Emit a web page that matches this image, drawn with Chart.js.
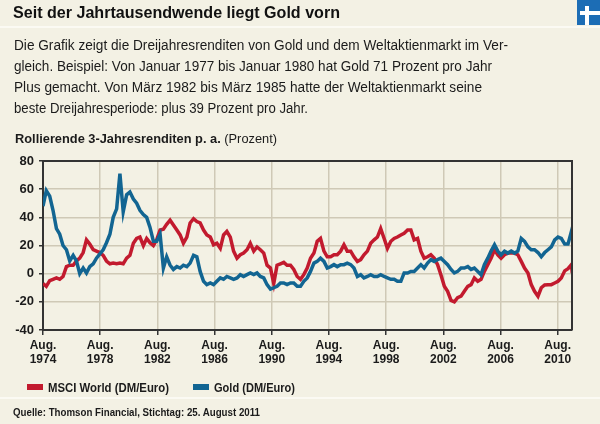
<!DOCTYPE html>
<html>
<head>
<meta charset="utf-8">
<script src="https://cdn.jsdelivr.net/npm/chart.js@4.4.1/dist/chart.umd.min.js"></script>
<style>
  body { margin: 0; width: 600px; height: 424px; background: #f3f1e4; position: relative; overflow: hidden; font-family: "Liberation Sans", Arial, sans-serif; color: #1b1b1b; }
  canvas { position: absolute; left: 0; top: 0; }
  .t { position: absolute; white-space: nowrap; line-height: 1; transform-origin: 0 0; }
  .b { font-weight: bold; }
  .sep { position: absolute; left: 0; width: 600px; height: 2px; background: #fbfaf3; }
  .key { position: absolute; width: 16px; height: 6px; }
</style>
</head>
<body>
<canvas id="myChart" width="600" height="424"></canvas>

<div class="sep" style="top:26px"></div>
<div class="sep" style="top:397px"></div>

<div id="logo" style="position:absolute;left:577px;top:0;width:23px;height:25px;background:#1c6db5">
  <div style="position:absolute;left:3px;top:11px;width:20px;height:4px;background:#fff"></div>
  <div style="position:absolute;left:8px;top:6px;width:4px;height:19px;background:#fff"></div>
</div>

<div class="t b" data-fit="327" style="left:13px;top:4.8px;font-size:16px;color:#111">Seit der Jahrtausendwende liegt Gold vorn</div>

<div class="t" data-fit="494" style="left:14px;top:38px;font-size:14px">Die Grafik zeigt die Dreijahresrenditen von Gold und dem Weltaktienmarkt im Ver-</div>
<div class="t" data-fit="478" style="left:14px;top:59px;font-size:14px">gleich. Beispiel: Von Januar 1977 bis Januar 1980 hat Gold 71 Prozent pro Jahr</div>
<div class="t" data-fit="468" style="left:14px;top:80px;font-size:14px">Plus gemacht. Von März 1982 bis März 1985 hatte der Weltaktienmarkt seine</div>
<div class="t" data-fit="294" style="left:14px;top:101px;font-size:14px">beste Dreijahresperiode: plus 39 Prozent pro Jahr.</div>

<div class="t" data-fit="262" style="left:15px;top:133px;font-size:12px"><span class="b">Rollierende 3-Jahresrenditen p. a.</span> (Prozent)</div>

<div class="key" style="left:27px;top:384px;background:#c21a2e"></div>
<div class="t b" data-fit="121" style="left:48px;top:380.7px;font-size:13px">MSCI World (DM/Euro)</div>
<div class="key" style="left:193px;top:384px;background:#126592"></div>
<div class="t b" data-fit="81" style="left:214px;top:380.7px;font-size:13px">Gold (DM/Euro)</div>

<div class="t b" data-fit="247" style="left:13px;top:407.5px;font-size:10px">Quelle: Thomson Financial, Stichtag: 25. August 2011</div>

<script>
// sample dates (decimal years)
const dates = [
	1974.60, 1974.83, 1975.07, 1975.30, 1975.54, 1975.77, 1976.00, 1976.24, 1976.47, 1976.71,
	1976.94, 1977.17, 1977.41, 1977.64, 1977.87, 1978.11, 1978.34, 1978.58, 1978.81, 1979.04,
	1979.28, 1979.51, 1979.75, 1979.98, 1980.21, 1980.45, 1980.68, 1980.92, 1981.15, 1981.38,
	1981.62, 1981.85, 1982.08, 1982.32, 1982.55, 1982.79, 1983.02, 1983.25, 1983.49, 1983.72,
	1983.96, 1984.19, 1984.42, 1984.66, 1984.89, 1985.13, 1985.36, 1985.59, 1985.83, 1986.06,
	1986.30, 1986.53, 1986.76, 1987.00, 1987.23, 1987.46, 1987.70, 1987.93, 1988.17, 1988.40,
	1988.63, 1988.87, 1989.10, 1989.34, 1989.57, 1989.80, 1990.04, 1990.27, 1990.51, 1990.74,
	1990.97, 1991.21, 1991.44, 1991.67, 1991.91, 1992.14, 1992.38, 1992.61, 1992.84, 1993.08,
	1993.31, 1993.55, 1993.78, 1994.01, 1994.25, 1994.48, 1994.72, 1994.95, 1995.18, 1995.42,
	1995.65, 1995.88, 1996.12, 1996.35, 1996.59, 1996.82, 1997.05, 1997.29, 1997.52, 1997.76,
	1997.99, 1998.22, 1998.46, 1998.69, 1998.93, 1999.16, 1999.39, 1999.63, 1999.86, 2000.10,
	2000.33, 2000.56, 2000.80, 2001.03, 2001.26, 2001.50, 2001.73, 2001.97, 2002.20, 2002.43,
	2002.67, 2002.90, 2003.14, 2003.37, 2003.60, 2003.84, 2004.07, 2004.31, 2004.54, 2004.77,
	2005.01, 2005.24, 2005.47, 2005.71, 2005.94, 2006.18, 2006.41, 2006.64, 2006.88, 2007.11,
	2007.35, 2007.58, 2007.81, 2008.05, 2008.28, 2008.52, 2008.75, 2008.98, 2009.22, 2009.45,
	2009.69, 2009.92, 2010.15, 2010.39, 2010.62, 2010.85, 2011.09, 2011.32, 2011.56, 2011.62
];

// MSCI World (DM/Euro), % p.a.
const msciValues = [
	-7, -9, -5, -4, -3, -4, -2, 5, 6, 6,
	9, 11, 15, 24, 21, 17, 16, 15, 13, 9,
	7, 7.5, 7, 7.5, 7, 11, 13, 21.6, 25, 26,
	20, 25, 22, 20, 24, 31, 31.5, 35,
	38, 34.6, 31, 27.5, 21.6, 26, 36, 39, 37, 36,
	31, 27.5, 26, 20.5, 21.6, 18, 27.5, 30, 26, 16,
	11, 13.4, 14.6, 17, 21.6, 16, 19, 17, 14.6, 6,
	4, -7, 6, 7, 8, 6, 6, 3, -2,
	-4, -0.7, 4, 11, 14.6, 23, 25, 16, 12, 12,
	13.4, 13.4, 16, 20.5, 16, 16, 12, 8.7, 10, 13.4,
	16, 21.6, 24, 26, 32, 25, 18, 23, 25, 26,
	27.5, 28.7, 31, 31, 24, 25, 16, 11, 12,
	13.4, 11, 6.4, -0.7, -9, -12.5, -19, -20, -17, -16,
	-12.5, -9, -7.8, -3, -5.4, -4, 1.6, 6.4, 11, 17,
	13.4, 11, 13.4, 14.6, 14.6, 14.6, 13.4, 8.7, 4, 0.5,
	-7.8, -12.5, -16, -10, -8, -7.8, -7.8, -6.6, -5.4, -3,
	2, 3.5, 6.4, 0.5
];

// Gold (DM/Euro), % p.a.
const goldValues = [
	48, 59, 55, 45, 32, 28, 20, 17, 9, 13,
	9, 0, 4, 0.5, 5, 7, 11, 14, 17, 22,
	28, 40, 46, 71, 44, 56, 58, 53, 50, 45,
	42, 40, 33, 23, 23, 28, 4, 12,
	6, 3, 5, 4, 6, 5, 7.5, 13, 12, 1.6,
	-5.4, -7.8, -6.6, -7.8, -5.4, -3, -4, -2, -3, -4,
	-3, -0.7, -2, -0.7, 0.5, -0.7, 0.5, -2, -3, -7.8,
	-11, -10, -9, -6.6, -6.6, -7.8, -6.6, -6.6, -9,
	-9, -5.4, -3, 1.6, 7.5, 8.7, 11, 8.7, 4, 5,
	6.4, 5, 6.4, 6.4, 7.5, 6.4, 4, -2, -0.7, -3,
	-2, -0.7, -2, -2, -0.7, -2, -3, -4, -4, -5.4,
	-5.4, 0.5, 0.5, 1.6, 1.6, 4, 6.4, 4, 7.5,
	10, 8.7, 10, 11, 8.7, 6.4, 3, 0.5, 1.6, 4,
	4, 5, 3, 4, 1.6, -0.7, 6.4, 11, 16, 20.5,
	16, 13.4, 16, 14.6, 16, 14.6, 16, 25, 23, 19,
	17, 17, 15, 12, 15, 17, 19, 24, 26, 25,
	21, 21, 30, 28
];

// x axis ticks: August of these years
const tickYears = [1974, 1978, 1982, 1986, 1990, 1994, 1998, 2002, 2006, 2010];
const yTicks = [-40, -20, 0, 20, 40, 60, 80];

const tickFont = { family: 'Liberation Sans', weight: 'bold', size: 12 };

// top and right edge of the frame
const framePlugin = {
	id: 'frame',
	afterDraw(chart) {
		const { ctx, chartArea: a } = chart;
		ctx.save();
		ctx.strokeStyle = '#333';
		ctx.lineWidth = 2;
		ctx.beginPath();
		ctx.moveTo(a.left, a.top);
		ctx.lineTo(a.right, a.top);
		ctx.lineTo(a.right, a.bottom);
		ctx.stroke();
		ctx.restore();
	}
};

const ctx = document.getElementById('myChart').getContext('2d');
const myChart = new Chart(ctx, {
	type: 'line',
	data: {
		datasets: [
			{
				label: 'Gold (DM/Euro)',
				data: dates.map((d, i) => ({ x: d, y: goldValues[i] })),
				borderColor: '#126592',
				borderWidth: 3.5,
				pointRadius: 0,
				order: 0
			},
			{
				label: 'MSCI World (DM/Euro)',
				data: dates.map((d, i) => ({ x: d, y: msciValues[i] })),
				borderColor: '#c21a2e',
				borderWidth: 3.5,
				pointRadius: 0,
				order: 1
			}
		]
	},
	options: {
		responsive: false,
		animation: false,
		layout: { padding: { top: 161, right: 28, left: 0, bottom: 0 } },
		plugins: { legend: { display: false }, tooltip: { enabled: false } },
		scales: {
			x: {
				type: 'linear',
				min: 1974.6,
				max: 2011.6,
				afterBuildTicks: (s) => { s.ticks = tickYears.map((y) => ({ value: y + 0.6 })); },
				afterFit: (s) => { s.height = 94; },
				grid: { color: '#cfc9b6', lineWidth: 1.5, tickColor: '#333', tickLength: 5 },
				border: { color: '#333', width: 2 },
				ticks: {
					autoSkip: false,
					maxRotation: 0,
					padding: 3,
					color: '#1b1b1b',
					font: tickFont,
					callback: (v) => ['Aug.', String(Math.floor(v + 0.01))]
				}
			},
			y: {
				min: -40,
				max: 80,
				afterBuildTicks: (s) => { s.ticks = yTicks.map((v) => ({ value: v })); },
				afterFit: (s) => { s.width = 43; },
				grid: { color: '#cfc9b6', lineWidth: 1.5, tickColor: '#333', tickLength: 4 },
				border: { color: '#333', width: 2 },
				ticks: { padding: 5, color: '#1b1b1b', font: { family: 'Liberation Sans', weight: 'bold', size: 13 } }
			}
		}
	},
	plugins: [framePlugin]
});

// squeeze the html texts to the widths of the original lettering
document.querySelectorAll('[data-fit]').forEach((el) => {
	const w = el.getBoundingClientRect().width;
	el.style.transform = 'scaleX(' + (parseFloat(el.dataset.fit) / w) + ')';
});
</script>
</body>
</html>
